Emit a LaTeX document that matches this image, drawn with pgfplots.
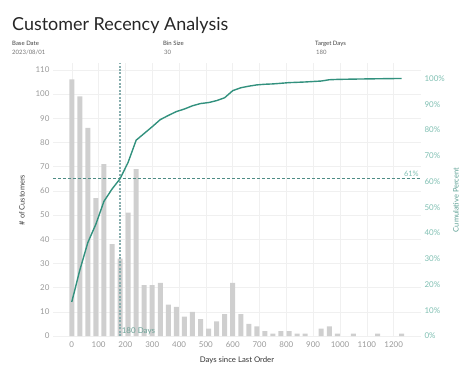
\documentclass[border=0pt]{standalone}
\usepackage{pgfplots}
\pgfplotsset{compat=1.18}
\usepackage{pgfplotstable}
\usepackage{fontspec}
\setmainfont{Lato}
\definecolor{bargray}{HTML}{CFCFCF}
\definecolor{curve}{HTML}{32917E}
\definecolor{tealtxt}{HTML}{7FBFB2}
\definecolor{tealtitle}{HTML}{5A9E92}
\definecolor{vline}{HTML}{88AEAE}
\definecolor{hline}{HTML}{4E8C85}
\definecolor{ticktxt}{HTML}{9A9A9A}
\definecolor{gridc}{HTML}{F0F0F0}

\pgfplotstableread{
days count
0 106
30 99
60 86
90 57
120 71
150 38
180 32
210 51
240 69
270 21
300 21
330 22
360 13
390 12
420 8
450 10
480 7
510 3
540 6
570 9
600 22
630 9
660 5
690 4
720 2
750 1
780 2
810 2
840 1
870 1
930 3
960 4
990 1
1050 1
1140 1
1230 1
}\bins

\pgfplotstableread{
days pct
0 13.23
30 25.59
60 36.33
90 43.45
120 52.31
150 57.05
180 61.05
210 67.42
240 76.03
270 78.65
300 81.27
330 84.02
360 85.64
390 87.14
420 88.14
450 89.39
480 90.26
510 90.64
540 91.39
570 92.51
600 95.26
630 96.38
660 97.00
690 97.50
720 97.75
750 97.88
780 98.13
810 98.38
840 98.50
870 98.63
930 99.00
960 99.50
990 99.63
1050 99.75
1140 99.88
1230 100.00
}\cum

\begin{document}
\begin{tikzpicture}
\useasboundingbox (0bp,0bp) rectangle (474bp,-379bp);
% title and filters
\node[anchor=base west, inner sep=0, font=\fontsize{18}{18}\selectfont, text=black!85] at (12bp,-30bp) {Customer Recency Analysis};
\node[anchor=base west, inner sep=0, font=\fontsize{6}{6}\selectfont, text=black!75] at (12bp,-45bp) {Base Date};
\node[anchor=base west, inner sep=0, font=\fontsize{6}{6}\selectfont, text=black!55] at (12bp,-54.5bp) {2023/08/01};
\node[anchor=base west, inner sep=0, font=\fontsize{6}{6}\selectfont, text=black!75] at (163bp,-45bp) {Bin Size};
\node[anchor=base west, inner sep=0, font=\fontsize{6}{6}\selectfont, text=black!55] at (164bp,-54.5bp) {30};
\node[anchor=base west, inner sep=0, font=\fontsize{6}{6}\selectfont, text=black!75] at (315bp,-45bp) {Target Days};
\node[anchor=base west, inner sep=0, font=\fontsize{6}{6}\selectfont, text=black!55] at (316bp,-54.5bp) {180};
% axis titles
\node[rotate=90, font=\fontsize{7.5}{8}\selectfont, text=black!75] at (22bp,-200bp) {\# of Customers};
\node[rotate=90, font=\fontsize{7.5}{8}\selectfont, text=tealtitle] at (456bp,-200bp) {Cumulative Percent};
\node[font=\fontsize{7.8}{8}\selectfont, text=black!80] at (237bp,-360bp) {Days since Last Order};

\begin{axis}[
  at={(53bp,-336bp)}, anchor=south west,
  scale only axis, width=368bp, height=273bp,
  xmin=-70, xmax=1302, ymin=0, ymax=112.8,
  axis line style={draw=none}, major tick length=0pt,
  xtick={0,100,...,1200}, ytick={0,10,...,110},
  grid=major, grid style={draw=gridc, line width=0.5pt},
  /pgf/number format/assume math mode=true,
  /pgf/number format/1000 sep={},
  ticklabel style={font=\fontsize{8}{8}\selectfont, text=ticktxt},
  xticklabel style={yshift=-2bp},
  clip=false,
]
\addplot[ybar, bar width=5bp, fill=bargray, draw=none] table[x=days, y=count] {\bins};
\addplot[vline, line width=1.2pt, dash pattern=on 2pt off 1.5pt] coordinates {(180,0) (180,112.8)};
\node[anchor=base west, inner sep=0, font=\fontsize{8}{8}\selectfont, text=tealtxt!85!black] at (axis cs:186,0.9) {180 Days};
\end{axis}

\begin{axis}[
  at={(53bp,-336bp)}, anchor=south west,
  scale only axis, width=368bp, height=273bp,
  xmin=-70, xmax=1302, ymin=0, ymax=106,
  axis x line=none, axis y line*=right,
  axis line style={draw=none}, major tick length=0pt,
  ytick={0,10,...,100},
  yticklabel={\pgfmathprintnumber{\tick}\%},
  /pgf/number format/assume math mode=true,
  ticklabel style={font=\fontsize{8}{8}\selectfont, text=tealtxt},
  clip=false,
]
\addplot[hline, line width=0.8pt, dash pattern=on 3pt off 2pt] coordinates {(-70,61.2) (1302,61.2)};
\addplot[curve, line width=1.4pt, line join=round] table[x=days, y=pct] {\cum};
\node[anchor=south, inner sep=1pt, font=\fontsize{7.5}{8}\selectfont, text=tealtxt] at (axis cs:1266,61.5) {61\%};
\end{axis}
\end{tikzpicture}
\end{document}
